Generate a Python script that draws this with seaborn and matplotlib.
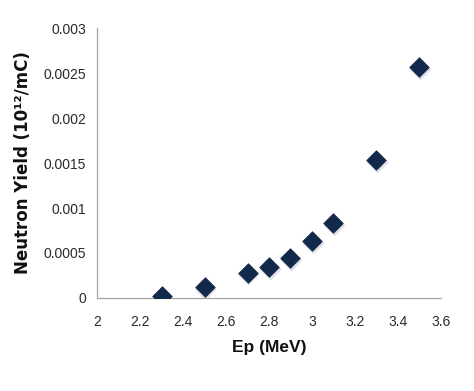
import matplotlib
matplotlib.use("Agg")
import matplotlib.pyplot as plt
import matplotlib.ticker as ticker
import seaborn as sns
import pandas as pd

# data
ep = [2.3, 2.5, 2.7, 2.8, 2.9, 3.0, 3.1, 3.3, 3.5]
neutron_yield = [0.000018, 0.000122, 0.000281, 0.00034, 0.00044, 0.00063, 0.000833, 0.001537, 0.002563]
x_ticks = [2, 2.2, 2.4, 2.6, 2.8, 3, 3.2, 3.4, 3.6]
y_ticks = [0, 0.0005, 0.001, 0.0015, 0.002, 0.0025, 0.003]

df = pd.DataFrame({"Ep": ep, "Yield": neutron_yield})

sns.set_style("white")
plt.rcParams["font.family"] = ["Liberation Sans", "DejaVu Sans"]

fig = plt.figure(figsize=(4.74, 3.91), dpi=100)
ax = fig.add_axes([0.205, 0.238, 0.725, 0.69])

navy = "#13294b"
# soft shadow under the markers
ax.scatter(df["Ep"] + 0.004, df["Yield"] - 0.00002, marker="D", s=125,
           color="#b3bac6", alpha=0.45, linewidths=0, zorder=2)
sns.scatterplot(data=df, x="Ep", y="Yield", marker="D", s=100, color=navy,
                edgecolor=navy, linewidth=0.5, ax=ax, zorder=3)

ax.set_xlim(2, 3.6)
ax.set_ylim(0, 0.003)
ax.set_xticks(x_ticks)
ax.set_yticks(y_ticks)
fmt = ticker.FuncFormatter(lambda v, _: f"{v:g}")
ax.xaxis.set_major_formatter(fmt)
ax.yaxis.set_major_formatter(fmt)

for side in ["top", "right"]:
    ax.spines[side].set_visible(False)
for side in ["left", "bottom"]:
    ax.spines[side].set_color("#a6a6a6")
    ax.spines[side].set_linewidth(0.9)
ax.tick_params(axis="both", direction="out", length=4, width=0.9, color="#a6a6a6",
               labelsize=10, labelcolor="#2a2a2a")
ax.tick_params(axis="x", pad=8)
ax.tick_params(axis="y", pad=4)

ax.set_xlabel("Ep (MeV)", fontsize=12.5, fontweight="bold", labelpad=8, color="#111111")
ax.set_ylabel("Neutron Yield (10¹²/mC)", fontsize=12, fontweight="bold", labelpad=8,
              family=["DejaVu Sans"], color="#111111")
ax.grid(False)

fig.savefig("out.png", dpi=100)
